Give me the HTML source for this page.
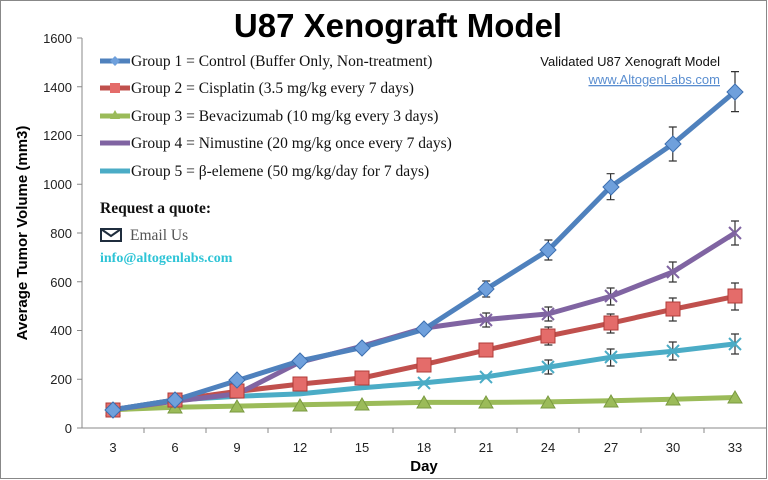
<!DOCTYPE html><html><head><meta charset="utf-8"><style>body{margin:0;background:#fff}svg{display:block}</style></head><body>
<svg width="768" height="480" xmlns="http://www.w3.org/2000/svg" font-family="Liberation Sans, sans-serif">
<rect x="0.5" y="0.5" width="766" height="478" fill="#fff" stroke="#888"/>
<text x="398" y="37" font-size="33" font-weight="bold" text-anchor="middle" fill="#000">U87 Xenograft Model</text>
<g stroke="#888" stroke-width="1"><line x1="82" y1="38" x2="82" y2="428"/><line x1="82" y1="428" x2="766" y2="428"/>
<line x1="77" y1="38" x2="82" y2="38"/><line x1="77" y1="86.75" x2="82" y2="86.75"/><line x1="77" y1="135.5" x2="82" y2="135.5"/><line x1="77" y1="184.25" x2="82" y2="184.25"/><line x1="77" y1="233" x2="82" y2="233"/><line x1="77" y1="281.75" x2="82" y2="281.75"/><line x1="77" y1="330.5" x2="82" y2="330.5"/><line x1="77" y1="379.25" x2="82" y2="379.25"/><line x1="77" y1="428" x2="82" y2="428"/>
<line x1="144" y1="428" x2="144" y2="433"/><line x1="206" y1="428" x2="206" y2="433"/><line x1="268" y1="428" x2="268" y2="433"/><line x1="331" y1="428" x2="331" y2="433"/><line x1="393" y1="428" x2="393" y2="433"/><line x1="455" y1="428" x2="455" y2="433"/><line x1="517" y1="428" x2="517" y2="433"/><line x1="579" y1="428" x2="579" y2="433"/><line x1="641" y1="428" x2="641" y2="433"/><line x1="704" y1="428" x2="704" y2="433"/></g>
<g font-size="13" text-anchor="end" fill="#222"><text x="72" y="43">1600</text><text x="72" y="92">1400</text><text x="72" y="140">1200</text><text x="72" y="189">1000</text><text x="72" y="238">800</text><text x="72" y="287">600</text><text x="72" y="335">400</text><text x="72" y="384">200</text><text x="72" y="433">0</text></g>
<g font-size="13" text-anchor="middle" fill="#222"><text x="113" y="452">3</text><text x="175" y="452">6</text><text x="237" y="452">9</text><text x="300" y="452">12</text><text x="362" y="452">15</text><text x="424" y="452">18</text><text x="486" y="452">21</text><text x="548" y="452">24</text><text x="611" y="452">27</text><text x="673" y="452">30</text><text x="735" y="452">33</text></g>
<text x="424" y="471" font-size="15" font-weight="bold" text-anchor="middle">Day</text>
<text transform="translate(27,233) rotate(-90)" font-size="15" font-weight="bold" text-anchor="middle">Average Tumor Volume (mm3)</text>
<g stroke="#333" stroke-width="1.2" fill="none">
<path d="M735 71.6V111.6M731 71.6H739M731 111.6H739M672.8 127V161M668.8 127H676.8M668.8 161H676.8M610.6 173.7V199.7M606.6 173.7H614.6M606.6 199.7H614.6M548.4 240V260M544.4 240H552.4M544.4 260H552.4M486.2 281V297M482.2 281H490.2M482.2 297H490.2"/>
<path d="M735 221V245M731 221H739M731 245H739M672.8 262V282M668.8 262H676.8M668.8 282H676.8M610.6 288V305M606.6 288H614.6M606.6 305H614.6M548.4 307V321M544.4 307H552.4M544.4 321H552.4M486.2 313V327M482.2 313H490.2M482.2 327H490.2"/>
<path d="M735 283V310M731 283H739M731 310H739M672.8 298V321M668.8 298H676.8M668.8 321H676.8M610.6 314V333M606.6 314H614.6M606.6 333H614.6M548.4 327V345M544.4 327H552.4M544.4 345H552.4"/>
<path d="M735 334V354M731 334H739M731 354H739M672.8 342V360M668.8 342H676.8M668.8 360H676.8M610.6 349V366M606.6 349H614.6M606.6 366H614.6M548.4 360V374M544.4 360H552.4M544.4 374H552.4"/>
</g>
<g fill="none" stroke-width="5" stroke-linejoin="round">
<polyline stroke="#9bbb59" points="113,409.7 175.2,407.3 237.4,406.1 299.6,404.8 361.8,403.6 424,402.4 486.2,402.4 548.4,401.9 610.6,400.7 672.8,399.2 735,397.5"/>
<polyline stroke="#c0504d" points="113,409.7 175.2,400 237.4,391.4 299.6,384.1 361.8,378 424,364.6 486.2,350 548.4,335.9 610.6,323.2 672.8,309.3 735,296.4"/>
<polyline stroke="#4bacc6" points="113,409.7 175.2,400 237.4,396.3 299.6,393.9 361.8,387.8 424,382.9 486.2,376.8 548.4,367.1 610.6,357.3 672.8,351.2 735,343.9"/>
<polyline stroke="#8064a2" points="113,409.7 175.2,401.2 237.4,393.9 299.6,362.2 361.8,346.3 424,328.1 486.2,319.5 548.4,313.9 610.6,296.4 672.8,272 735,233"/>
<polyline stroke="#4f81bd" points="113,409.7 175.2,400 237.4,380.5 299.6,361 361.8,347.6 424,329.3 486.2,289.1 548.4,250.1 610.6,186.7 672.8,144 735,91.6"/>
</g>
<g fill="#9bbb59" stroke="#7a9a40"><path d="M113 403l7 12h-14zM175 401l7 12h-14zM237 400l7 12h-14zM300 399l7 12h-14zM362 398l7 12h-14zM424 396l7 12h-14zM486 396l7 12h-14zM548 396l7 12h-14zM611 395l7 12h-14zM673 393l7 12h-14zM735 391l7 12h-14z"/></g>
<g fill="#e46c6a" stroke="#b03b38"><rect x="106" y="403" width="14" height="14"/><rect x="168" y="393" width="14" height="14"/><rect x="230" y="384" width="14" height="14"/><rect x="293" y="377" width="14" height="14"/><rect x="355" y="371" width="14" height="14"/><rect x="417" y="358" width="14" height="14"/><rect x="479" y="343" width="14" height="14"/><rect x="541" y="329" width="14" height="14"/><rect x="604" y="316" width="14" height="14"/><rect x="666" y="302" width="14" height="14"/><rect x="728" y="289" width="14" height="14"/></g>
<g stroke="#8064a2" stroke-width="2"><path d="M667 266l12 12M679 266l-12 12M729 227l12 12M741 227l-12 12M605 290l12 12M617 290l-12 12M542 308l12 12M554 308l-12 12M480 314l12 12M492 314l-12 12"/></g>
<g stroke="#4bacc6" stroke-width="2"><path d="M729 338l12 12M741 338l-12 12M667 345l12 12M679 345l-12 12M605 351l12 12M617 351l-12 12M542 361l12 12M554 361l-12 12M480 371l12 12M492 371l-12 12M418 377l12 12M430 377l-12 12"/></g>
<g fill="#6fa0dc" stroke="#3d6fb0"><path d="M113 402l8 8-8 8-8-8zM175 392l8 8-8 8-8-8zM237 372l8 8-8 8-8-8zM300 353l8 8-8 8-8-8zM362 340l8 8-8 8-8-8zM424 321l8 8-8 8-8-8zM486 281l8 8-8 8-8-8zM548 242l8 8-8 8-8-8zM611 179l8 8-8 8-8-8zM673 136l8 8-8 8-8-8zM735 84l8 8-8 8-8-8z"/></g>
<g font-family="Liberation Serif, serif" font-size="15.5" fill="#111">
<line x1="100" y1="61" x2="130" y2="61" stroke="#4f81bd" stroke-width="5"/><path d="M115 56l5 5-5 5-5-5z" fill="#6fa0dc"/><text x="131" y="66">Group 1 = Control (Buffer Only, Non-treatment)</text>
<line x1="100" y1="88" x2="130" y2="88" stroke="#c0504d" stroke-width="5"/><rect x="110" y="83" width="10" height="10" fill="#e46c6a"/><text x="131" y="93">Group 2 = Cisplatin (3.5 mg/kg every 7 days)</text>
<line x1="100" y1="116" x2="130" y2="116" stroke="#9bbb59" stroke-width="5"/><path d="M115 110l5 9h-10z" fill="#9bbb59"/><text x="131" y="121">Group 3 = Bevacizumab (10 mg/kg every 3 days)</text>
<line x1="100" y1="143" x2="130" y2="143" stroke="#8064a2" stroke-width="5"/><text x="131" y="148">Group 4 = Nimustine (20 mg/kg once every 7 days)</text>
<line x1="100" y1="171" x2="130" y2="171" stroke="#4bacc6" stroke-width="5"/><text x="131" y="176">Group 5 = β-elemene (50 mg/kg/day for 7 days)</text>
<text x="100" y="213" font-weight="bold">Request a quote:</text>
<rect x="101" y="229" width="20" height="12" fill="none" stroke="#1f2d3d" stroke-width="2"/><path d="M101 229l10 7 10-7" fill="none" stroke="#1f2d3d" stroke-width="2"/>
<text x="130" y="240" fill="#555">Email Us</text>
<text x="100" y="262" font-weight="bold" fill="#2ec4d6" font-size="14">info@altogenlabs.com</text>
</g>
<text x="720" y="66" font-size="13" text-anchor="end" fill="#111">Validated U87 Xenograft Model</text>
<text x="720" y="84" font-size="13" text-anchor="end" fill="#5a8ed0" text-decoration="underline">www.AltogenLabs.com</text>
</svg></body></html>
